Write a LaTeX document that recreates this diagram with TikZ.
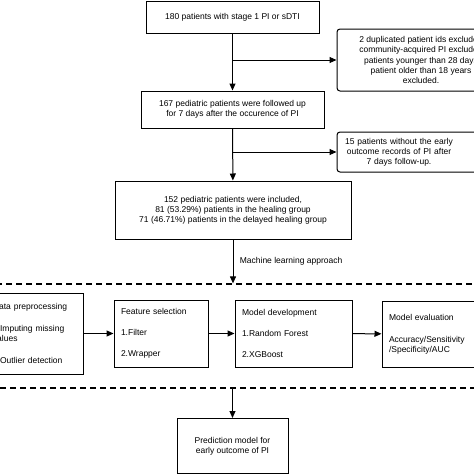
\documentclass[tikz,border=0pt]{standalone}
\usepackage{fontspec}
\setmainfont{Liberation Sans}
\usetikzlibrary{arrows.meta}

\begin{document}
\begin{tikzpicture}[x=1pt, y=-1pt,
  txt/.style={font=\fontsize{8.5}{10.2}\selectfont},
  box/.style={txt, draw, line width=1pt, align=center, inner sep=0pt},
  exbox/.style={box, rounded corners=3pt},
  stepbox/.style={txt, draw, line width=1pt, align=left, inner xsep=7pt, inner ysep=0pt},
  arr/.style={line width=1pt, -{Triangle[length=7pt, width=6pt]}}]
  \useasboundingbox (0,0) rectangle (474,474);
  \clip (0,0) rectangle (474,474);
  % cohort
  \node[box, minimum width=173, minimum height=32] (start) at (232.5,17) {180 patients with stage 1 PI or sDTI};
  \node[exbox, minimum width=168, minimum height=62] (excl1) at (421,60)
    {2 duplicated patient ids excluded\\community-acquired PI excluded\\patients younger than 28 days\\patient older than 18 years\\excluded.};
  \node[box, minimum width=183, minimum height=37] (followed) at (232.5,109.5)
    {167 pediatric patients were followed up\\for 7 days after the occurence of PI};
  \node[exbox, align=left, text width=168pt, minimum height=40] (excl2) at (421,152)
    {\parbox{124pt}{\centering 15 patients without the early\\outcome records of PI after\\7 days follow-up.}};
  \node[box, minimum width=236, minimum height=58] (included) at (233,210)
    {152 pediatric patients were included,\\81 (53.29\%) patients in the healing group\\71 (46.71\%) patients in the delayed healing group};
  \draw[arr] (start) -- (followed);
  \draw[arr] (start.south |- excl1.west) -- (excl1.west);
  \draw[arr] (followed) -- (included);
  \draw[arr] (followed.south |- excl2.west) -- (excl2.west);
  % machine learning part
  \node[draw, line width=1.2pt, dash pattern=on 6pt off 4pt, minimum width=554, minimum height=104, inner sep=0pt] (mlframe) at (237,336) {};
  \node[stepbox, text width=83, minimum height=81] (prep) at (34.5,333.5)
    {Data preprocessing\\[11.5pt]1.Imputing missing\\values\\[11.5pt]2.Outlier detection};
  \node[stepbox, text width=80, minimum height=67] (feat) at (161,333.5)
    {Feature selection\\[10.8pt]1.Filter\\[10.8pt]2.Wrapper};
  \node[stepbox, text width=103, minimum height=67] (model) at (293.5,333.5)
    {Model development\\[10.8pt]1.Random Forest\\[10.8pt]2.XGBoost};
  \node[stepbox, text width=100, minimum height=66] (eval) at (439,334)
    {Model evaluation\\[12pt]Accuracy/Sensitivity\\/Specificity/AUC};
  \draw[arr] (included.south) -- (included.south |- mlframe.north)
    node[txt, midway, right, xshift=3pt] {Machine learning approach};
  \draw[arr] (prep) -- (feat);
  \draw[arr] (feat) -- (model);
  \draw[arr] (model) -- (eval);
  % outcome
  \node[box, minimum width=111, minimum height=55] (final) at (232.5,446)
    {Prediction model for\\early outcome of PI};
  \draw[arr] (mlframe.south -| final.north) -- (final.north);
\end{tikzpicture}
\end{document}
